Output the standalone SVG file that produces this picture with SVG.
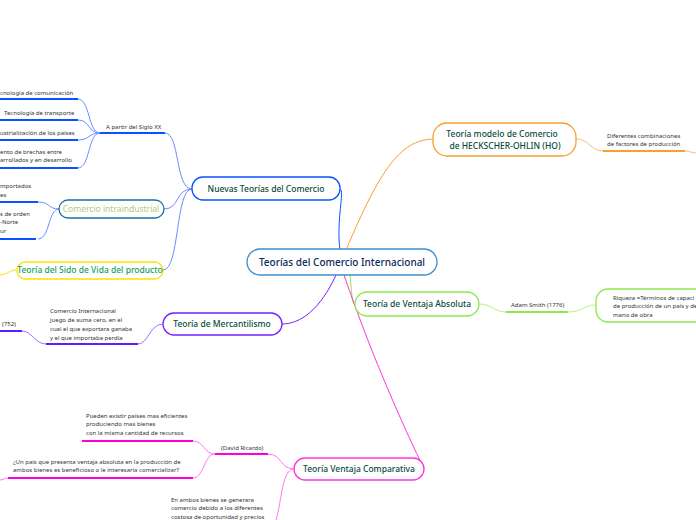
<svg xmlns="http://www.w3.org/2000/svg" width="696" height="520" viewBox="0 0 696 520">
<style>
text{font-family:"Noto Sans","Open Sans",sans-serif}
.n{font-size:8.5px;fill:#0b4a3c;text-anchor:middle;font-weight:500}
.s{font-size:6px;fill:#333}
.c{fill:none;stroke-width:1}
.u{fill:none;stroke-width:2}
.box{fill:#fff;stroke-width:1.3}
</style>
<rect width="696" height="520" fill="#fff"/>
<g id="connectors">
<!-- center links -->
<path class="c" d="M340,250 C336,220 345,190 340,189" stroke="#0a52ff" stroke-width="1.8"/>
<path class="c" d="M346,250 C380,170 400,140 433,139" stroke="#f7a030" stroke-width="1.8"/>
<path class="c" d="M350,275 C352,295 352,304 355,304" stroke="#8de84a" stroke-width="1.8"/>
<path class="c" d="M336,275 C320,310 300,324 282,324" stroke="#7a1fff" stroke-width="1.8"/>
<path class="c" d="M344,275 C380,380 420,460 424,469" stroke="#ff33dd" stroke-width="1.8"/>
<!-- Nuevas -->
<path class="c" stroke="#6b8cff" d="M192,189 C175,189 180,133 165,133"/>
<path class="u" stroke="#0a52ff" d="M100,133 H165"/>
<path class="c" stroke="#6b8cff" d="M100,133 C88,133 90,99 78,99"/>
<path class="c" stroke="#6b8cff" d="M100,133 C88,133 90,120 78,120"/>
<path class="c" stroke="#6b8cff" d="M100,133 C88,133 90,140 78,140"/>
<path class="c" stroke="#6b8cff" d="M100,133 C88,133 90,168 78,168"/>
<path class="u" stroke="#0a52ff" d="M0,99 H78 M0,120 H78 M0,140 H78 M0,168 H78"/>
<path class="c" stroke="#6b8cff" d="M192,189 C175,189 180,209 164,209"/>
<path class="c" stroke="#6b8cff" d="M59,209 C48,209 50,202 38,202"/>
<path class="c" stroke="#6b8cff" d="M59,209 C48,209 50,239 38,239"/>
<path class="u" stroke="#0a52ff" d="M0,202 H38 M0,239 H36"/>
<path class="c" stroke="#6b8cff" d="M192,189 C175,189 180,270 163,270"/>
<path class="c" stroke="#ffe000" d="M17,270 C10,270 8,274 0,275"/>
<!-- Mercantilismo -->
<path class="c" stroke="#a070ff" d="M163,324 C150,324 148,344 138,344"/>
<path class="u" stroke="#5a1fff" d="M46,344 H138"/>
<path class="c" stroke="#a070ff" d="M46,344 C35,344 32,331 22,331"/>
<path class="u" stroke="#5a1fff" d="M0,331 H22"/>
<!-- HO -->
<path class="c" stroke="#f7c080" d="M576,139 C590,139 590,151 603,151"/>
<path class="u" stroke="#f7a030" d="M603,151 H685"/>
<path class="c" stroke="#f7c080" d="M685,151 C690,151 692,153 696,153"/>
<!-- Absoluta -->
<path class="c" stroke="#b8f080" d="M479,304 C492,304 494,312 506,312"/>
<path class="u" stroke="#8de84a" d="M506,312 H568"/>
<path class="c" stroke="#b8f080" d="M568,312 C582,312 584,305 596,305"/>
<!-- Comparativa -->
<path class="c" stroke="#ff77ee" d="M294,469 C280,469 282,454 268,454"/>
<path class="u" stroke="#ff00dd" d="M215,454 H268"/>
<path class="c" stroke="#ff77ee" d="M215,454 C204,454 204,441 193,441"/>
<path class="c" stroke="#ff77ee" d="M215,454 C204,454 204,478 193,478"/>
<path class="u" stroke="#ff00dd" d="M82,441 H193 M8,478 H193"/>
<path class="c" stroke="#ff77ee" d="M8,478 C4,478 3,480 0,480"/>
<path class="c" stroke="#ff77ee" d="M294,469 C282,469 282,500 276,520"/>
</g>
<g id="center"><rect class="box" x="247" y="249" width="190" height="26" rx="13" stroke="#3b8fd0"/><text class="n" x="342" y="266" style="font-size:10px;fill:#0a2a5a">Teorías del Comercio Internacional</text></g>
<g id="nuevas"><rect class="box" x="192" y="177" width="148" height="23" rx="11" stroke="#0a52ff"/><text class="n" x="266" y="192">Nuevas Teorías del Comercio</text></g>
<g id="siglo"><text class="s" x="106" y="129">A partir del Siglo XX</text></g>
<g id="leaves1"><text class="s" x="0" y="95">cnología de comunicación</text><text class="s" x="4" y="115">Tecnología de transporte</text><text class="s" x="0" y="135">ustrialización de los países</text><text class="s" x="0" y="154">ento de brechas entre</text><text class="s" x="0" y="162">arrollados y en desarrollo</text></g>
<g id="intra"><rect class="box" x="59" y="200" width="105" height="18" rx="9" stroke="#1a6fa0"/><text class="n" x="111" y="212" style="fill:#b5c97a;font-weight:400">Comercio intraindustrial</text></g>
<g id="leaves2"><text class="s" x="0" y="188">mportados</text><text class="s" x="0" y="197">es</text><text class="s" x="0" y="216">s de orden</text><text class="s" x="0" y="224">-Norte</text><text class="s" x="0" y="233">ur</text></g>
<g id="ciclo"><rect class="box" x="17" y="262" width="146" height="17" rx="8.5" stroke="#ffe000"/><text class="n" x="90" y="273" style="fill:#1aa05a">Teoría del Sido de Vida del producto</text></g>
<g id="mercantilismo"><rect class="box" x="163" y="313" width="119" height="22" rx="11" stroke="#7a1fff"/><text class="n" x="222" y="327">Teoría de Mercantilismo</text></g>
<g id="merc-leaf"><text class="s" x="50" y="313">Comercio Internacional</text><text class="s" x="50" y="322">juego de suma cero, en el</text><text class="s" x="50" y="331">cual el que exportara ganaba</text><text class="s" x="50" y="340">y el que importaba perdía</text><text class="s" x="2" y="326">(752)</text></g>
<g id="ho"><rect class="box" x="433" y="123" width="143" height="33" rx="14" stroke="#f7a030"/><text class="n" x="502" y="137">Teoría modelo de Comercio</text><text class="n" x="505" y="149">de HECKSCHER-OHLIN (HO)</text></g>
<g id="ho-leaf"><text class="s" x="607" y="138">Diferentes combinaciones</text><text class="s" x="607" y="146">de factores de producción</text></g>
<g id="absoluta"><rect class="box" x="355" y="292" width="124" height="24" rx="12" stroke="#8de84a"/><text class="n" x="417" y="307">Teoría de Ventaja Absoluta</text></g>
<g id="smith"><text class="s" x="511" y="307">Adam Smith (1776)</text></g>
<g id="riqueza"><rect class="box" x="596" y="289" width="110" height="33" rx="12" stroke="#8de84a"/><text class="s" x="613" y="300">Riqueza =Términos de capaci</text><text class="s" x="613" y="308">de producción de un país y de</text><text class="s" x="613" y="317">mano de obra</text></g>
<g id="comparativa"><rect class="box" x="294" y="458" width="130" height="22" rx="11" stroke="#ff33dd"/><text class="n" x="359" y="472">Teoría Ventaja Comparativa</text></g>
<g id="ricardo"><text class="s" x="221" y="450">(David Ricardo)</text></g>
<g id="comp-leaves"><text class="s" x="86" y="418">Pueden  existir países mas eficientes</text><text class="s" x="86" y="426">produciendo mas bienes</text><text class="s" x="86" y="435"> con la misma cantidad de recursos</text><text class="s" x="13" y="464">¿Un país que presenta ventaja absoluta en la producción de</text><text class="s" x="13" y="472">ambos bienes es beneficioso o le interesaría comercializar?</text><text class="s" x="171" y="502">En ambos bienes se generara</text><text class="s" x="171" y="510">comercio debido a los diferentes</text><text class="s" x="171" y="519"> costosa de oportunidad y precios</text></g>
</svg>
